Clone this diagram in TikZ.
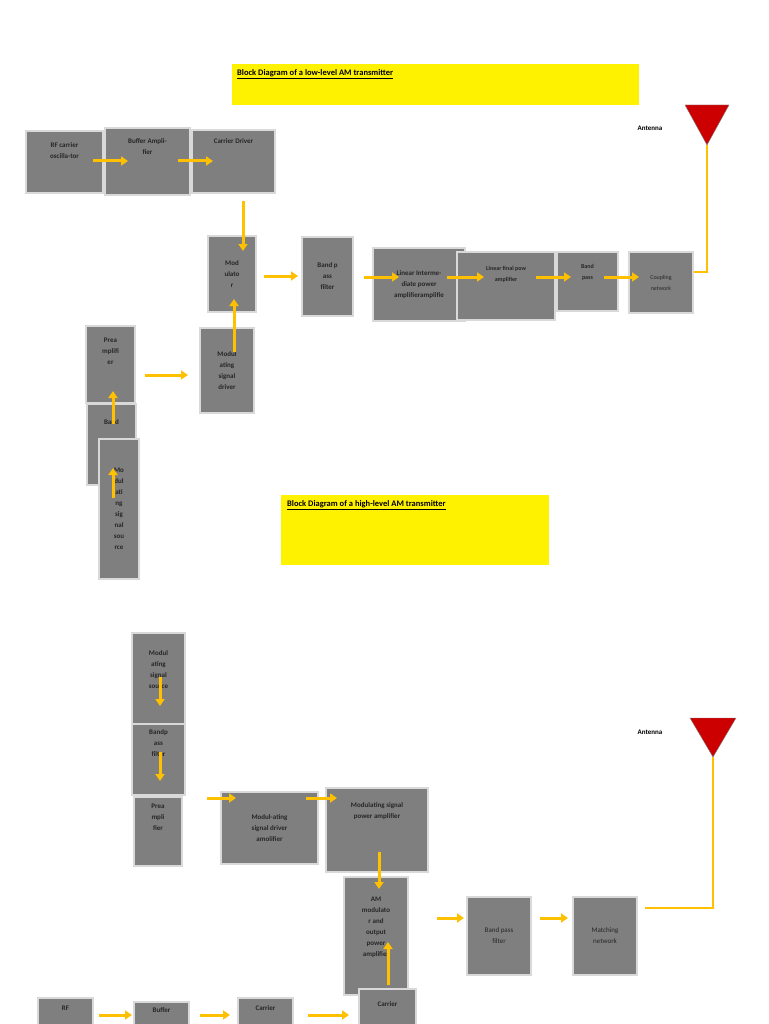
\documentclass[tikz,border=0pt]{standalone}
\usepackage{fontspec}
\setmainfont{Carlito}
\usetikzlibrary{arrows.meta}
\definecolor{boxg}{HTML}{7F7F7F}
\definecolor{arry}{HTML}{FFC000}
\definecolor{arro}{HTML}{F0A000}
\newcommand{\bx}[6]{\node[blk,minimum width={(#4-#2)*1pt},minimum height={(#5-#3)*1pt}] (#1) at ({(#2+#4)/2},{(#3+#5)/2}) {#6};}
\begin{document}
\begin{tikzpicture}[x=1pt,y=-1pt,
  blk/.style={fill=boxg,draw=gray!30,line width=1.2pt,inner sep=1pt,align=center,font=\fontsize{7}{11}\selectfont\bfseries,text=black!85},
  arr/.style={draw=arry,line width=3pt,-{Triangle[length=7pt,width=9pt]}},
  ttl/.style={font=\fontsize{8.5}{10}\selectfont\bfseries,anchor=north west,inner sep=0pt}]
\useasboundingbox (0,0) rectangle (768,1024);
\clip (0,0) rectangle (768,1024);
% ---- low-level ----
\fill[yellow] (232,64) rectangle (639,105);
\node[ttl] (t1) at (237,69) {\underline{Block Diagram of a low-level AM transmitter}};
\bx{rf}{26}{131}{103}{193}{RF carrier\\oscilla-tor\\[12pt]}
\bx{buf}{105}{128}{190}{195}{Buffer Ampli-\\fier\\[18pt]}
\bx{cd}{192}{130}{275}{193}{Carrier Driver\\[30pt]}
\bx{mod}{208}{236}{256}{312}{Mod\\ulato\\r}
\bx{bpf}{302}{237}{353}{316}{Band p\\ass\\filter}
\bx{lin}{373}{248}{465}{321}{Linear Interme-\\diate power\\amplifieramplifie}
\bx{lfp}{457}{252}{555}{320}{\fontsize{6}{9}\selectfont Linear final pow\\\fontsize{6}{9}\selectfont amplifier\\[14pt]}
\bx{bp}{557}{252}{618}{311}{\fontsize{6}{9}\selectfont Band\\\fontsize{6}{9}\selectfont pass\\[8pt]}
\bx{cpl}{629}{252}{693}{313}{\mdseries\fontsize{6}{9}\selectfont Coupling\\\mdseries\fontsize{6}{9}\selectfont network}
\bx{pre}{86}{326}{135}{403}{Prea\\mplifi\\er\\[16pt]}
\bx{band}{87}{404}{136}{485}{Band\\[34pt]}
\bx{mss}{99}{439}{139}{579}{Mo\\dul\\ati\\ng\\sig\\nal\\sou\\rce}
\bx{msd}{200}{328}{254}{413}{Modul\\ating\\signal\\driver}
\fill[red!80!black,draw=black!50] (685,105) -- (729,105) -- (707,145) -- cycle;
\coordinate (ant1) at (707,145);
\node[font=\fontsize{7}{8}\selectfont\bfseries] (a1) at (650,128) {Antenna};
\draw[arry,line width=1.5pt] (cpl.east |- 0,272) -- (707,272) -- (ant1);
\draw[arr] (93,161) -- (128,161);
\draw[arr] (178,161) -- (213,161);
\draw[arr] (243,201) -- (243,251);
\draw[arr] (264,276) -- (298,276);
\draw[arr] (364,277) -- (399,277);
\draw[arr] (447,277) -- (484,277);
\draw[arr] (536,277) -- (571,277);
\draw[arr] (604,277) -- (639,277);
\draw[arr] (234,352) -- (234,299);
\draw[arr] (145,375) -- (188,375);
\draw[arr] (113,424) -- (113,391);
\draw[arr] (113,498) -- (113,468);
% ---- high-level ----
\fill[yellow] (281,495) rectangle (549,565);
\node[ttl] (t2) at (287,500) {\underline{Block Diagram of a high-level AM transmitter}};
\bx{hpre}{134}{797}{182}{866}{Prea\\mpli\\fier\\[18pt]}
\bx{hbpf}{132}{724}{185}{795}{Bandp\\ass\\filter\\[22pt]}
\bx{hmss}{132}{633}{185}{724}{Modul\\ating\\signal\\source\\[6pt]}
\bx{hmsd}{221}{792}{318}{864}{Modul-ating\\signal driver\\amolifier}
\bx{hmpa}{326}{788}{428}{872}{Modulating signal\\power amplifier\\[28pt]}
\bx{amm}{344}{877}{408}{995}{AM\\modulato\\r and\\output\\power\\amplifier\\[8pt]}
\bx{hbp}{467}{897}{531}{975}{\mdseries Band pass\\\mdseries filter}
\bx{mat}{573}{897}{637}{975}{\mdseries Matching\\\mdseries network}
\bx{hrf}{38}{998}{93}{1060}{RF\\[30pt]}
\bx{hbuf}{134}{1002}{189}{1060}{Buffer\\[30pt]}
\bx{hcar}{238}{998}{293}{1060}{Carrier\\[30pt]}
\bx{hcd}{359}{989}{416}{1060}{Carrier\\[30pt]}
\fill[red!80!black,draw=black!50] (690,718) -- (736,718) -- (713,757) -- cycle;
\coordinate (ant2) at (713,757);
\node[font=\fontsize{7}{8}\selectfont\bfseries] (a2) at (650,732) {Antenna};
\draw[arry,line width=1.5pt] (645,908) -- (713,908) -- (ant2);
\draw[arr] (160,677) -- (160,706);
\draw[arr] (160,752) -- (160,781);
\draw[arr] (207,798) -- (236,798);
\draw[arr] (306,798) -- (337,798);
\draw[arr] (379,852) -- (379,889);
\draw[arr] (437,918) -- (464,918);
\draw[arr] (540,918) -- (568,918);
\draw[arr] (99,1015) -- (132,1015);
\draw[arr] (200,1015) -- (230,1015);
\draw[arr] (308,1015) -- (349,1015);
\draw[arr] (388,985) -- (388,942);
\end{tikzpicture}
\end{document}
